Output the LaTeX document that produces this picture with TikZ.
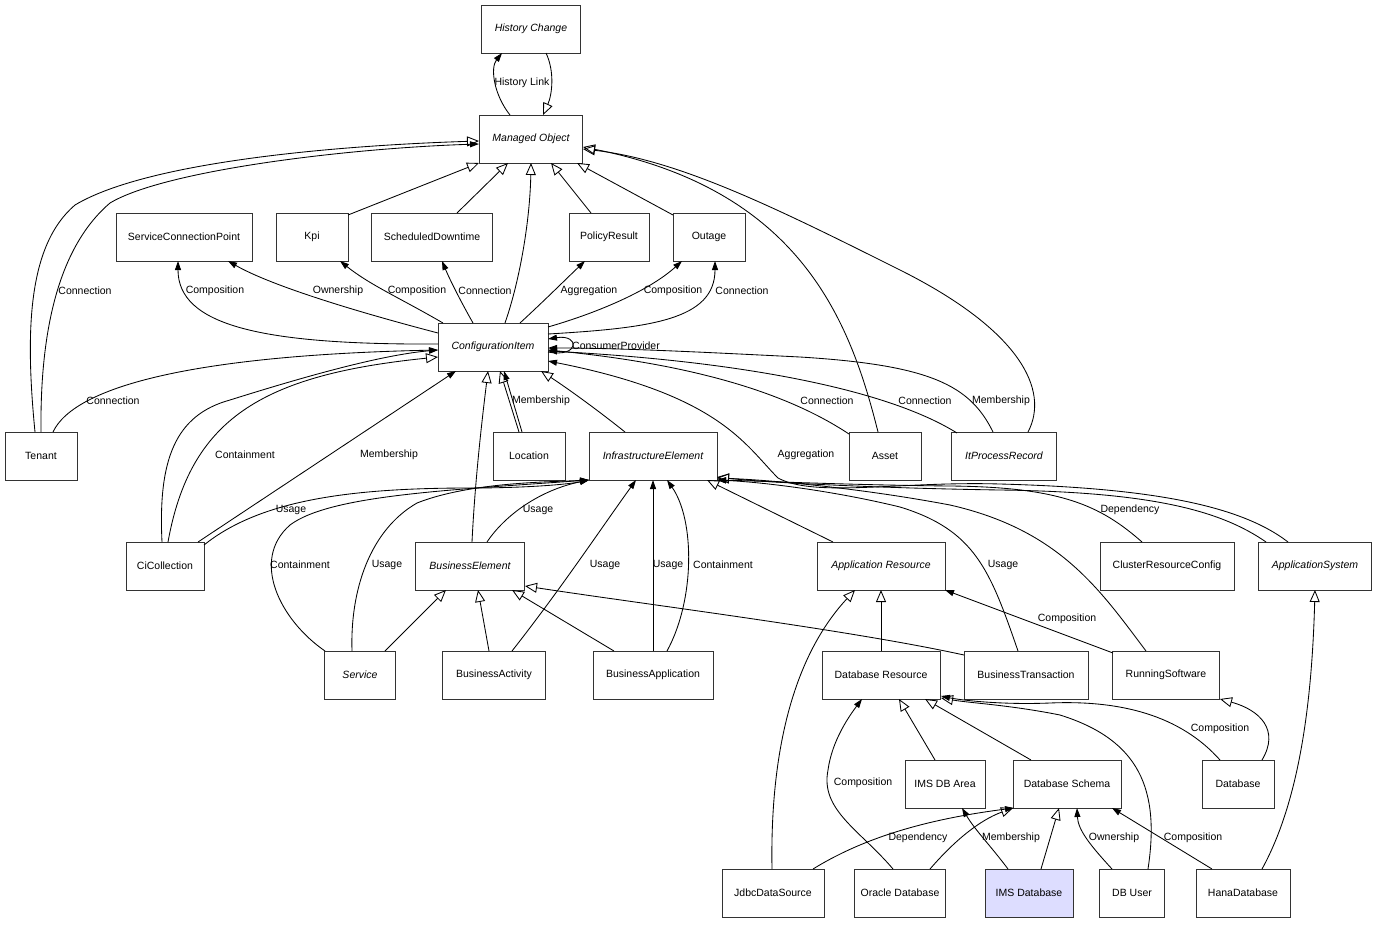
\documentclass[tikz,border=0pt]{standalone}
\usepackage{fontspec}
\setmainfont{Liberation Sans}
\usetikzlibrary{arrows.meta,calc}
\definecolor{imsfill}{RGB}{221,221,255}
\tikzset{
  cls/.style={draw=black!80,line width=0.85pt,minimum height=48pt,inner sep=2pt,font=\fontsize{10.5}{12}\selectfont},
  abstr/.style={cls,font=\fontsize{10.5}{12}\selectfont\itshape},
  lbl/.style={inner sep=1pt,font=\fontsize{10.5}{12}\selectfont},
  assoc/.style={line width=0.85pt,-{Triangle[length=9pt,width=6pt]}},
  gen/.style={line width=0.85pt,-{Triangle[open,length=12pt,width=10pt]}}
}
\begin{document}
\begin{tikzpicture}[x=1pt,y=-1pt]
\useasboundingbox (0,0) rectangle (1378,924);
\node[abstr,minimum width=99pt] (hc) at (531,29) {History Change};
\node[abstr,minimum width=103pt] (mo) at (531,139) {Managed Object};
\node[cls,minimum width=136pt] (scp) at (184,237) {ServiceConnectionPoint};
\node[cls,minimum width=72pt] (kpi) at (312,237) {Kpi};
\node[cls,minimum width=121pt] (sd) at (432,237) {ScheduledDowntime};
\node[cls,minimum width=80pt] (pr) at (609,237) {PolicyResult};
\node[cls,minimum width=72pt] (outage) at (709,237) {Outage};
\node[abstr,minimum width=110pt] (ci) at (493,347) {ConfigurationItem};
\node[cls,minimum width=72pt] (tenant) at (41,456) {Tenant};
\node[cls,minimum width=72pt] (loc) at (529,456) {Location};
\node[abstr,minimum width=128pt] (ie) at (653,456) {InfrastructureElement};
\node[cls,minimum width=72pt] (asset) at (885,456) {Asset};
\node[abstr,minimum width=105pt] (ipr) at (1004,456) {ItProcessRecord};
\node[cls,minimum width=78pt] (cic) at (165,566) {CiCollection};
\node[abstr,minimum width=109pt] (be) at (470,566) {BusinessElement};
\node[abstr,minimum width=128pt] (ar) at (881,566) {Application Resource};
\node[cls,minimum width=134pt] (crc) at (1167,566) {ClusterResourceConfig};
\node[abstr,minimum width=113pt] (as) at (1315,566) {ApplicationSystem};
\node[abstr,minimum width=71pt] (svc) at (360,675) {Service};
\node[cls,minimum width=103pt] (ba) at (494,675) {BusinessActivity};
\node[cls,minimum width=120pt] (bapp) at (653,675) {BusinessApplication};
\node[cls,minimum width=118pt] (dr) at (881,675) {Database Resource};
\node[cls,minimum width=124pt] (bt) at (1026,675) {BusinessTransaction};
\node[cls,minimum width=107pt] (rs) at (1166,675) {RunningSoftware};
\node[cls,minimum width=80pt] (imsa) at (945,784) {IMS DB Area};
\node[cls,minimum width=108pt] (ds) at (1067,784) {Database Schema};
\node[cls,minimum width=72pt] (db) at (1238,784) {Database};
\node[cls,minimum width=102pt] (jdbc) at (773,893) {JdbcDataSource};
\node[cls,minimum width=91pt] (ora) at (900,893) {Oracle Database};
\node[cls,minimum width=88pt,fill=imsfill] (ims) at (1029,893) {IMS Database};
\node[cls,minimum width=65pt] (dbu) at (1132,893) {DB User};
\node[cls,minimum width=94pt] (hana) at (1243,893) {HanaDatabase};

\draw[assoc] ($(mo)+(-21,-24)$) .. controls (494,95) and (490,68) .. ($(hc)+(-29,24)$) node[lbl] (l1) at (522,83) {History Link};
\draw[gen] ($(hc)+(15,24)$) .. controls (555,72) and (552,95) .. ($(mo)+(12,-24)$);
\draw[gen] ($(tenant)+(-6,-24)$) .. controls (25,330) and (28,245) .. (75,205) .. controls (150,160) and (350,145) .. ($(mo)+(-52,2)$);
\draw[assoc] ($(tenant)+(0,-24)$) .. controls (40,340) and (55,250) .. (110,203) .. controls (165,170) and (350,148) .. ($(mo)+(-52,5)$) node[lbl] (l2) at (85,291) {Connection};
\draw[assoc] ($(tenant)+(12,-24)$) .. controls (75,385) and (200,355) .. ($(ci)+(-55,3)$) node[lbl] (l3) at (113,401) {Connection};
\draw[assoc] ($(ci)+(-55,-3)$) .. controls (260,345) and (178,325) .. ($(scp)+(-6,24)$) node[lbl] (l4) at (215,291) {Composition};
\draw[assoc] ($(ci)+(-55,-14)$) .. controls (350,310) and (270,285) .. ($(scp)+(44,24)$) node[lbl] (l5) at (338,291) {Ownership};
\draw[assoc] ($(ci)+(-50,-24)$) .. controls (400,298) and (370,285) .. ($(kpi)+(28,24)$) node[lbl] (l6) at (417,291) {Composition};
\draw[assoc] ($(ci)+(-20,-24)$) .. controls (460,300) and (450,280) .. ($(sd)+(10,24)$) node[lbl] (l7) at (485,291) {Connection};
\draw[gen] ($(ci)+(12,-24)$) .. controls (520,280) and (530,220) .. ($(mo)+(0,24)$);
\draw[assoc] ($(ci)+(27,-24)$) .. controls (545,300) and (565,280) .. ($(pr)+(-24,24)$) node[lbl] (l8) at (589,291) {Aggregation};
\draw[assoc] ($(ci)+(55,-20)$) .. controls (600,312) and (650,290) .. ($(outage)+(-27,24)$) node[lbl] (l9) at (673,291) {Composition};
\draw[assoc] ($(ci)+(55,-13)$) .. controls (650,328) and (715,320) .. ($(outage)+(6,24)$) node[lbl] (l10) at (742,291) {Connection};
\draw[assoc] ($(ci)+(55,5)$) .. controls (580,358) and (580,334) .. ($(ci)+(55,-8)$) node[lbl] (l11) at (616,346) {ConsumerProvider};
\draw[gen] ($(kpi)+(36,-22)$) -- ($(mo)+(-52,24)$);
\draw[gen] ($(sd)+(25,-24)$) -- ($(mo)+(-23,24)$);
\draw[gen] ($(pr)+(-18,-24)$) -- ($(mo)+(20,24)$);
\draw[gen] ($(outage)+(-36,-22)$) -- ($(mo)+(46,24)$);
\draw[gen] ($(asset)+(-7,-24)$) .. controls (850,320) and (800,190) .. ($(mo)+(52,8)$);
\draw[gen] ($(ipr)+(24,-24)$) .. controls (1050,390) and (1020,330) .. (900,270) .. controls (780,210) and (680,160) .. ($(mo)+(52,10)$);
\draw[gen] ($(loc)+(-10,-24)$) -- ($(ci)+(7,24)$);
\draw[assoc] ($(loc)+(-7,-24)$) -- ($(ci)+(11,24)$) node[lbl] (l12) at (541,401) {Membership};
\draw[gen] ($(be)+(2,-24)$) .. controls (475,480) and (482,420) .. ($(ci)+(-5,24)$);
\draw[gen] ($(ie)+(-28,-24)$) .. controls (600,412) and (570,390) .. ($(ci)+(48,24)$);
\draw[assoc] ($(cic)+(-3,-24)$) .. controls (158,460) and (175,415) .. (230,400) .. controls (300,378) and (380,355) .. ($(ci)+(-55,3)$) node[lbl] (l13) at (245,455) {Containment};
\draw[gen] ($(cic)+(3,-24)$) .. controls (190,420) and (260,375) .. ($(ci)+(-55,10)$);
\draw[assoc] ($(cic)+(33,-24)$) -- ($(ci)+(-37,24)$) node[lbl] (l14) at (389,455) {Membership};
\draw[assoc] ($(cic)+(39,-21)$) .. controls (260,500) and (350,488) .. (470,488) .. controls (530,488) and (570,484) .. ($(ie)+(-64,24)$) node[lbl] (l15) at (291,510) {Usage};
\draw[assoc] ($(svc)+(-35,-24)$) .. controls (280,620) and (250,560) .. (290,525) .. controls (330,495) and (450,490) .. ($(ie)+(-64,24)$) node[lbl] (l16) at (300,565) {Containment};
\draw[assoc] ($(svc)+(-8,-24)$) .. controls (350,590) and (370,530) .. (417,503) .. controls (470,482) and (550,482) .. ($(ie)+(-64,24)$) node[lbl] (l17) at (387,565) {Usage};
\draw[assoc] ($(be)+(17,-24)$) .. controls (505,515) and (540,490) .. ($(ie)+(-64,24)$) node[lbl] (l18) at (538,510) {Usage};
\draw[gen] ($(svc)+(25,-24)$) -- ($(be)+(-24,24)$);
\draw[gen] ($(ba)+(-5,-24)$) -- ($(be)+(8,24)$);
\draw[assoc] ($(ba)+(18,-24)$) .. controls (560,590) and (600,530) .. ($(ie)+(-17,24)$) node[lbl] (l19) at (605,565) {Usage};
\draw[gen] ($(bapp)+(-39,-24)$) -- ($(be)+(42,24)$);
\draw[assoc] ($(bapp)+(0,-24)$) -- ($(ie)+(0,24)$) node[lbl] (l20) at (668,565) {Usage};
\draw[assoc] ($(bapp)+(14,-24)$) .. controls (695,600) and (695,520) .. ($(ie)+(14,24)$) node[lbl] (l21) at (723,565) {Containment};
\draw[gen] ($(bt)+(-62,-20)$) .. controls (850,630) and (650,605) .. ($(be)+(55,20)$);
\draw[gen] ($(ar)+(-48,-24)$) -- ($(ie)+(54,24)$);
\draw[assoc] ($(bt)+(-8,-24)$) .. controls (990,570) and (975,530) .. (900,507) .. controls (830,490) and (760,482) .. ($(ie)+(64,24)$) node[lbl] (l22) at (1003,565) {Usage};
\draw[gen] ($(rs)+(-20,-24)$) .. controls (1100,590) and (1060,530) .. (950,505) .. controls (860,488) and (770,480) .. ($(ie)+(64,22)$);
\draw[assoc] ($(crc)+(-25,-24)$) .. controls (1100,505) and (1060,487) .. (950,486) .. controls (850,485) and (760,481) .. ($(ie)+(64,24)$) node[lbl] (l23) at (1130,510) {Dependency};
\draw[gen] ($(as)+(-49,-24)$) .. controls (1220,510) and (1150,492) .. (1000,490) .. controls (870,488) and (760,482) .. ($(ie)+(64,21)$);
\draw[assoc] ($(as)+(-27,-24)$) .. controls (1240,505) and (1150,488) .. (1000,484) .. controls (900,481) and (815,498) .. (778,478) .. controls (745,445) and (720,395) .. ($(ci)+(55,14)$) node[lbl] (l24) at (806,455) {Aggregation};
\draw[assoc] ($(asset)+(-36,-22)$) .. controls (790,395) and (700,365) .. ($(ci)+(55,3)$) node[lbl] (l25) at (827,401) {Connection};
\draw[assoc] ($(ipr)+(-47,-23)$) .. controls (880,385) and (720,360) .. ($(ci)+(55,4)$) node[lbl] (l26) at (925,401) {Connection};
\draw[assoc] ($(ipr)+(-11,-24)$) .. controls (970,385) and (930,365) .. (800,357) .. controls (700,352) and (620,348) .. ($(ci)+(55,1)$) node[lbl] (l27) at (1001,401) {Membership};
\draw[gen] ($(dr)+(0,-24)$) -- ($(ar)+(0,24)$);
\draw[gen] ($(jdbc)+(-1,-24)$) .. controls (770,760) and (790,660) .. ($(ar)+(-26,24)$);
\draw[assoc] ($(rs)+(-53,-22)$) -- ($(ar)+(64,24)$) node[lbl] (l28) at (1067,619) {Composition};
\draw[gen] ($(hana)+(19,-24)$) .. controls (1300,800) and (1312,700) .. ($(as)+(0,24)$);
\draw[assoc] ($(ora)+(-7,-24)$) .. controls (860,830) and (820,810) .. (828,770) .. controls (832,740) and (850,715) .. ($(dr)+(-19,24)$) node[lbl] (l29) at (863,783) {Composition};
\draw[gen] ($(imsa)+(-10,-24)$) -- ($(dr)+(18,24)$);
\draw[gen] ($(ds)+(-36,-24)$) -- ($(dr)+(44,24)$);
\draw[gen] ($(dbu)+(16,-24)$) .. controls (1160,790) and (1140,740) .. (1060,715) .. controls (1010,705) and (970,703) .. ($(dr)+(60,23)$);
\draw[assoc] ($(db)+(-18,-24)$) .. controls (1180,715) and (1120,700) .. (1050,703) .. controls (1000,705) and (960,700) .. ($(dr)+(60,21)$) node[lbl] (l30) at (1220,729) {Composition};
\draw[gen] ($(db)+(24,-24)$) .. controls (1280,730) and (1260,710) .. ($(rs)+(54,24)$);
\draw[assoc] ($(jdbc)+(40,-24)$) .. controls (860,840) and (920,820) .. ($(ds)+(-53,24)$) node[lbl] (l31) at (918,838) {Dependency};
\draw[gen] ($(ora)+(30,-24)$) .. controls (955,840) and (980,820) .. ($(ds)+(-54,24)$);
\draw[assoc] ($(ims)+(-21,-24)$) .. controls (990,845) and (975,830) .. ($(imsa)+(17,24)$) node[lbl] (l32) at (1011,838) {Membership};
\draw[gen] ($(ims)+(12,-24)$) -- ($(ds)+(-8,24)$);
\draw[assoc] ($(dbu)+(-20,-24)$) .. controls (1090,845) and (1078,830) .. ($(ds)+(10,24)$) node[lbl] (l33) at (1114,838) {Ownership};
\draw[assoc] ($(hana)+(-31,-24)$) -- ($(ds)+(45,24)$) node[lbl] (l34) at (1193,838) {Composition};
\end{tikzpicture}
\end{document}
